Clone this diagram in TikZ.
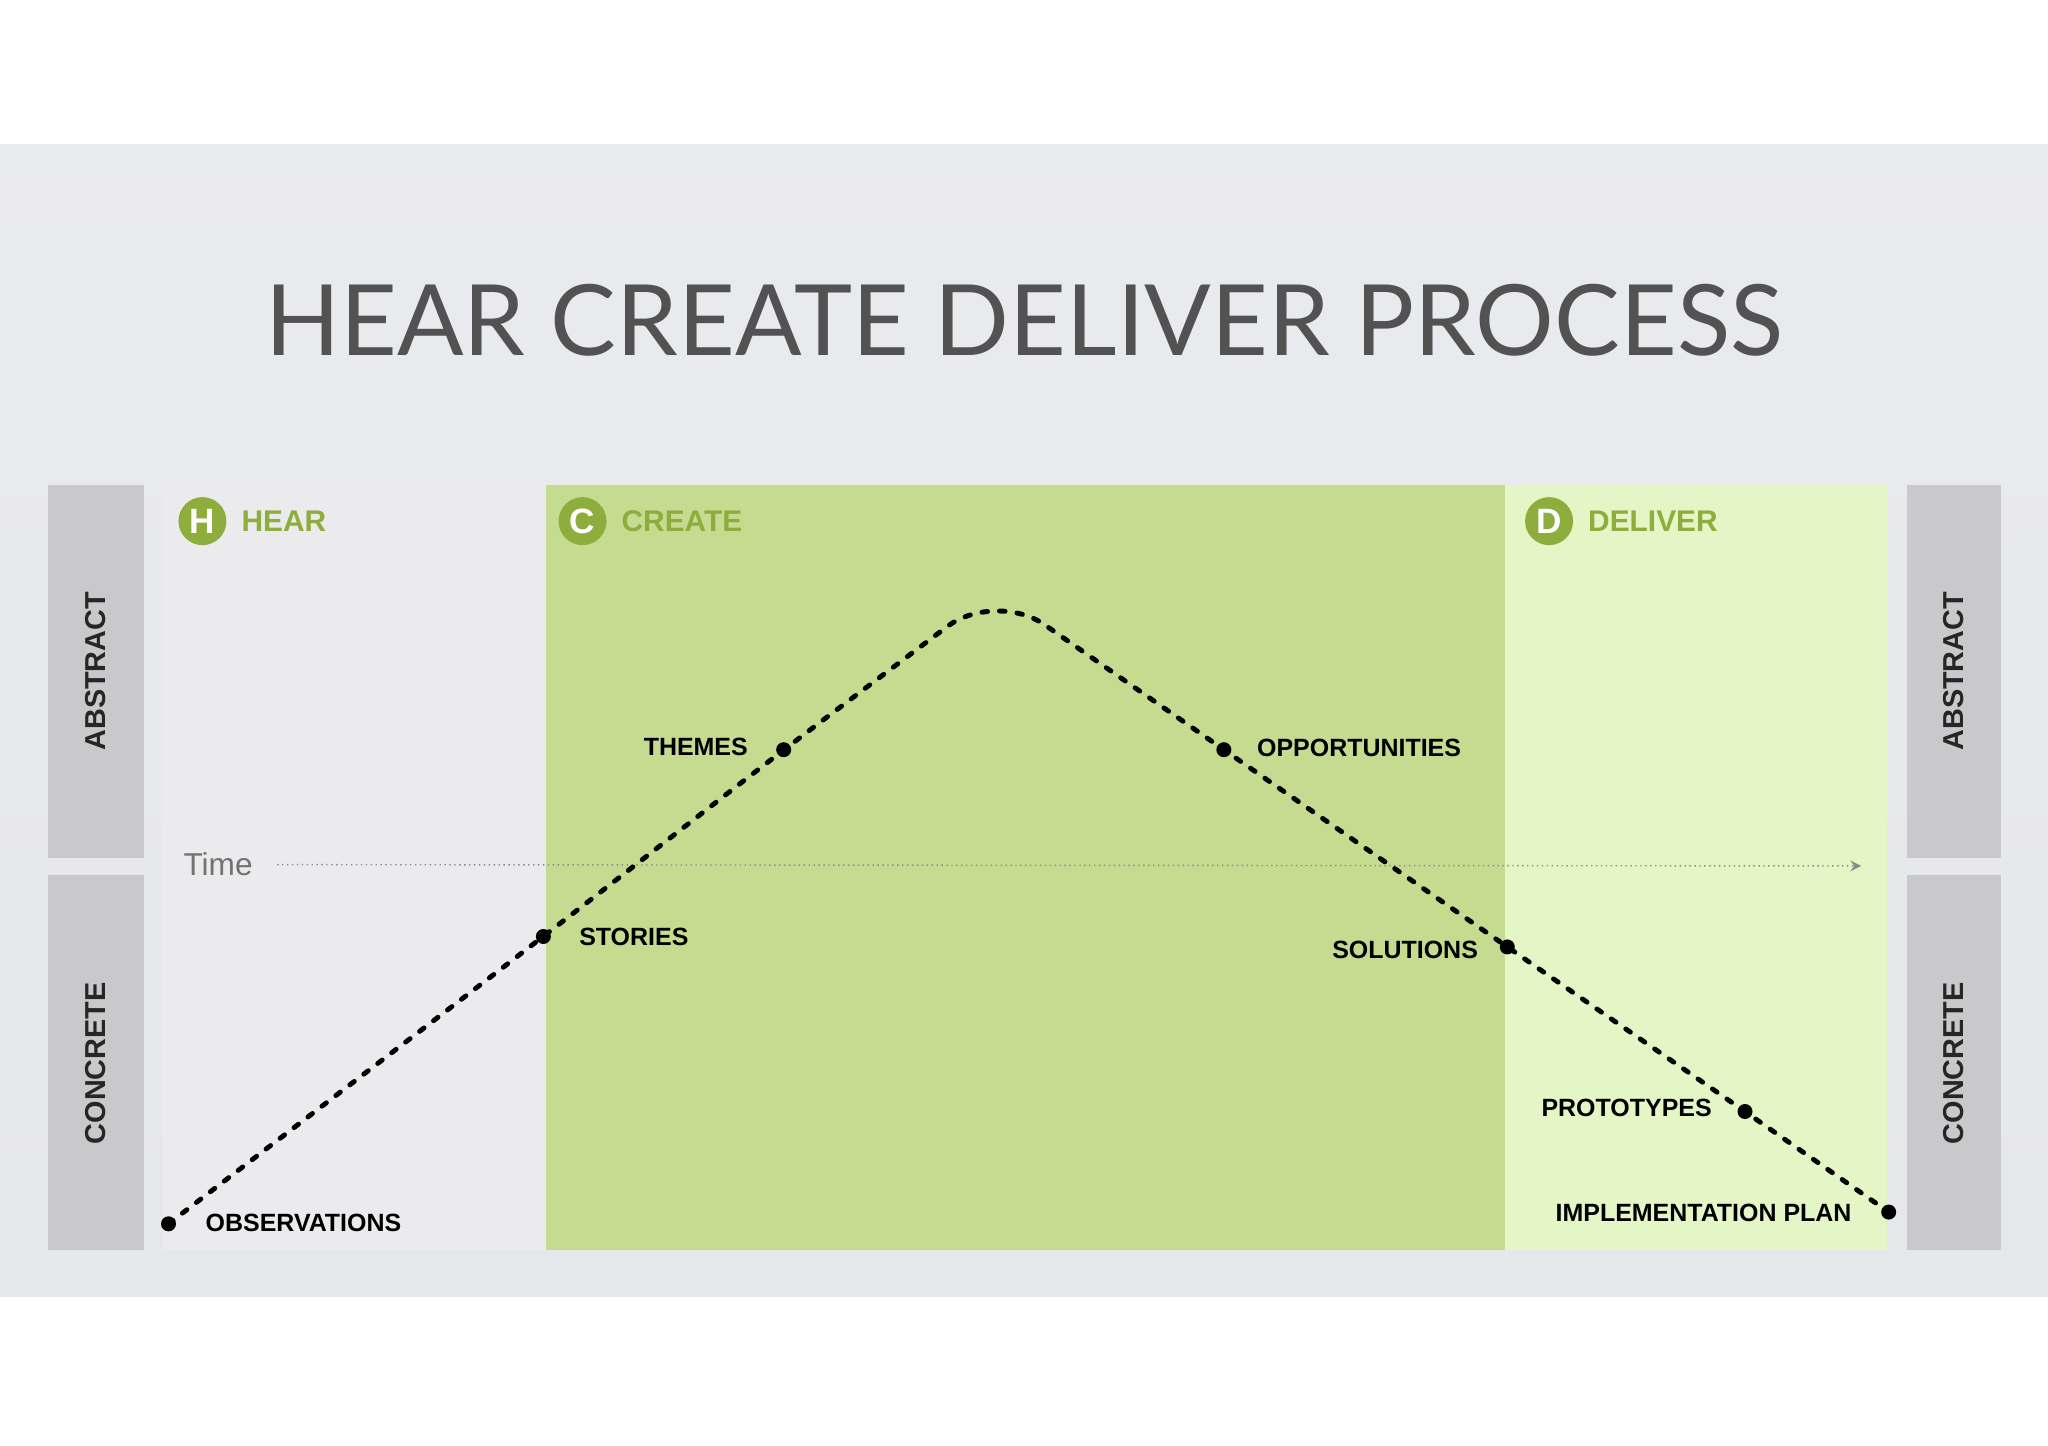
\documentclass[tikz,border=0pt]{standalone}
\usepackage{fontspec}
\setmainfont{Liberation Sans}
\newfontfamily\titlefont{Lato}
\usetikzlibrary{positioning}
\definecolor{slidegray}{HTML}{E6E7EA}
\definecolor{sidegray}{HTML}{C9C9CB}
\definecolor{heargray}{HTML}{EBEBED}
\definecolor{creategreen}{HTML}{C5DB90}
\definecolor{delivergreen}{HTML}{E5F6C6}
\definecolor{hcdgreen}{HTML}{8DAE3C}
\tikzset{
  side/.style={fill=sidegray, draw=none},
  sidetext/.style={rotate=90, font=\bfseries\fontsize{8.2}{9}\selectfont, text=black!85},
  badge/.style={circle, fill=hcdgreen, text=white, inner sep=0pt, minimum size=0.48cm, font=\bfseries\fontsize{10}{10}\selectfont},
  phase/.style={text=hcdgreen, font=\bfseries\fontsize{8.5}{10}\selectfont, anchor=west},
  stop/.style={circle, fill=black, inner sep=0pt, minimum size=0.15cm},
  stoplabel/.style={font=\bfseries\fontsize{7.1}{8}\selectfont},
  walk/.style={line width=1.4pt, dash pattern=on 1.6pt off 3.4pt, line cap=round, rounded corners=0.6cm}
}
\begin{document}
\begin{tikzpicture}[x=0.1306mm, y=-0.1306mm]
\useasboundingbox (0,0) rectangle (1568,1107);
\fill[white] (0,0) rectangle (1568,1107);
\shade[top color=slidegray!85, bottom color=slidegray] (0,111) rectangle (1568,993);

% title
\node[font=\titlefont\fontsize{28}{32}\selectfont, text=black!68] (title) at (784,245) {HEAR CREATE DELIVER PROCESS};

% phases
\fill[heargray] (125,371) rectangle (418,957);
\fill[creategreen] (418,371) rectangle (1152,957);
\fill[delivergreen] (1152,371) rectangle (1445,957);

% side bars
\fill[side] (37,371) rectangle (110,657);
\fill[side] (37,670) rectangle (110,957);
\fill[side] (1460,371) rectangle (1532,657);
\fill[side] (1460,670) rectangle (1532,957);
\node[sidetext] (absl) at (73,514) {ABSTRACT};
\node[sidetext] (conl) at (73,814) {CONCRETE};
\node[sidetext] (absr) at (1496,514) {ABSTRACT};
\node[sidetext] (conr) at (1496,814) {CONCRETE};

% headers
\node[badge] (h) at (155,399) {H};
\node[phase, right=0.02cm of h] (hear) {HEAR};
\node[badge] (c) at (446,399) {C};
\node[phase, right=0.02cm of c] (create) {CREATE};
\node[badge] (d) at (1186,399) {D};
\node[phase, right=0.02cm of d] (deliver) {DELIVER};

% time axis
\node[text=black!55, font=\fontsize{9}{10}\selectfont] (time) at (167,662) {Time};
\coordinate (tend) at (1425,663);
\draw[black!45, densely dotted, -stealth] (time.east) ++(0.12cm,0) -- (tend);

% path
\node[stop] (obs) at (129,937) {};
\node[stop] (sto) at (416,717) {};
\node[stop] (the) at (600,574) {};
\coordinate (peak) at (762,452);
\node[stop] (opp) at (937,574) {};
\node[stop] (sol) at (1154,725) {};
\node[stop] (pro) at (1336,851) {};
\node[stop] (imp) at (1446,928) {};
\draw[walk] (obs.center) -- (sto.center) -- (the.center) -- (peak) -- (opp.center) -- (sol.center) -- (pro.center) -- (imp.center);

\node[stoplabel, anchor=west] at (148,936) {OBSERVATIONS};
\node[stoplabel, anchor=west] at (434,717) {STORIES};
\node[stoplabel, anchor=east] at (582,572) {THEMES};
\node[stoplabel, anchor=west] at (953,573) {OPPORTUNITIES};
\node[stoplabel, anchor=east] at (1141,727) {SOLUTIONS};
\node[stoplabel, anchor=east] at (1320,848) {PROTOTYPES};
\node[stoplabel, anchor=east] at (1427,929) {IMPLEMENTATION PLAN};
\end{tikzpicture}
\end{document}
